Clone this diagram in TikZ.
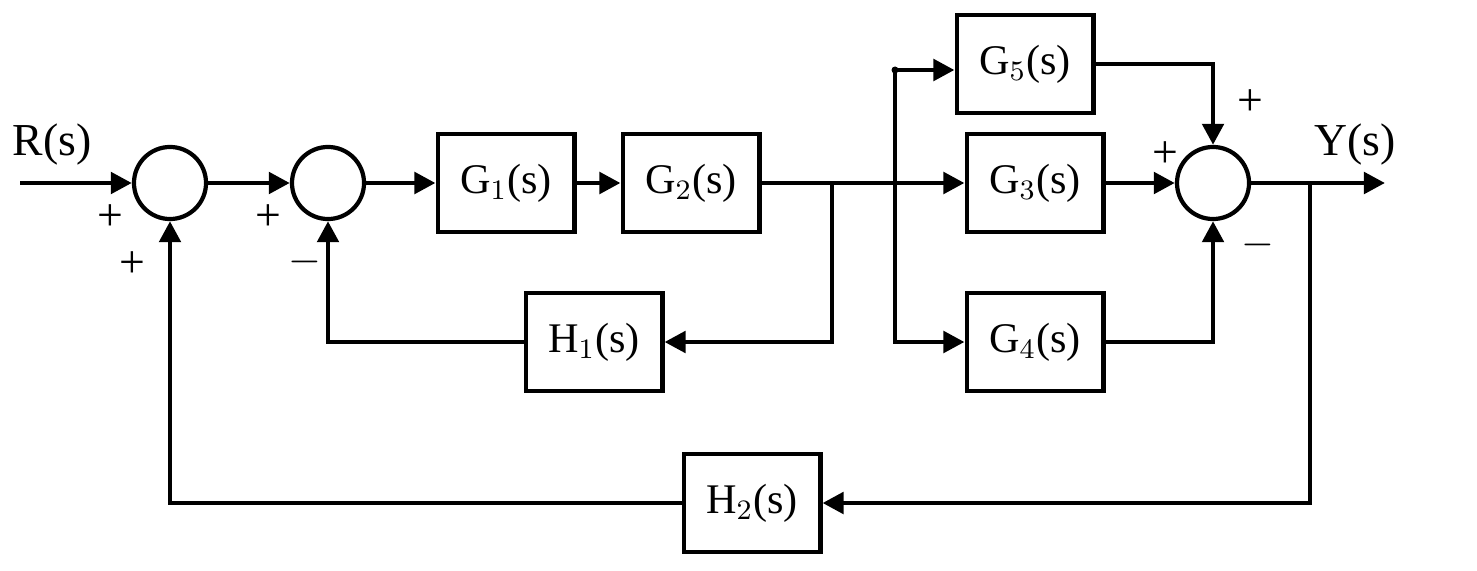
\documentclass[tikz,border=0pt]{standalone}
\usepackage{fontspec}
\setmainfont{Liberation Serif}
\usetikzlibrary{arrows.meta}
\begin{document}
\begin{tikzpicture}[x=0.01cm,y=-0.01cm,
 blk/.style={draw,line width=1.4pt,minimum width=1.36cm,minimum height=0.98cm,inner sep=0pt,font=\fontsize{12}{14}\selectfont},
 sum/.style={draw,line width=1.2pt,circle,minimum size=0.72cm,inner sep=0pt},
 ln/.style={line width=1.4pt},
 ar/.style={line width=1.4pt,-{Triangle[length=6pt,width=6pt]}},
 lab/.style={font=\fontsize{13}{15}\selectfont}]
\useasboundingbox (0,0) rectangle (1477,570);
\node[sum] (s1) at (170,183) {};
\node[sum] (s2) at (328,183) {};
\node[sum] (s3) at (1213,183) {};
\node[blk] (g1) at (506,183) {G$_1$(s)};
\node[blk] (g2) at (691,183) {G$_2$(s)};
\node[blk] (g3) at (1035,183) {G$_3$(s)};
\node[blk] (g5) at (1025,64) {G$_5$(s)};
\node[blk] (g4) at (1035,342) {G$_4$(s)};
\node[blk] (h1) at (594,342) {H$_1$(s)};
\node[blk] (h2) at (752,503) {H$_2$(s)};
\coordinate (in) at (20,183);
\coordinate (out) at (1385,183);
\coordinate (b1) at (832,183);
\coordinate (b2) at (895,183);
\coordinate (b3) at (1310,183);
\node[lab] (r) at (52,145) {R(s)};
\node[lab] (y) at (1355,145) {Y(s)};
\draw[ar] (in) -- (s1);
\draw[ar] (s1) -- (s2);
\draw[ar] (s2) -- (g1);
\draw[ar] (g1) -- (g2);
\draw[ar] (g2) -- (g3);
\draw[ar] (g3) -- (s3);
\draw[ar] (s3) -- (out);
\draw[ar] (b1) |- (h1);
\draw[ar] (h1) -| (s2);
\draw[ar] (b2) |- (g5.west |- 0,70);
\fill (b2 |- 0,70) circle (3.5);
\draw[ar] (b2) |- (g4);
\draw[ar] (g5.east |- 0,64) -| (s3);
\draw[ar] (g4) -| (s3);
\draw[ar] (b3) |- (h2);
\draw[ar] (h2) -| (s1);
\node[lab] at (110,218) {+};
\node[lab] at (132,265) {+};
\node[lab] at (268,218) {+};
\node[lab] at (305,262) {$-$};
\node[lab] at (1250,103) {+};
\node[lab] at (1165,155) {+};
\node[lab] at (1258,245) {$-$};
\end{tikzpicture}
\end{document}
